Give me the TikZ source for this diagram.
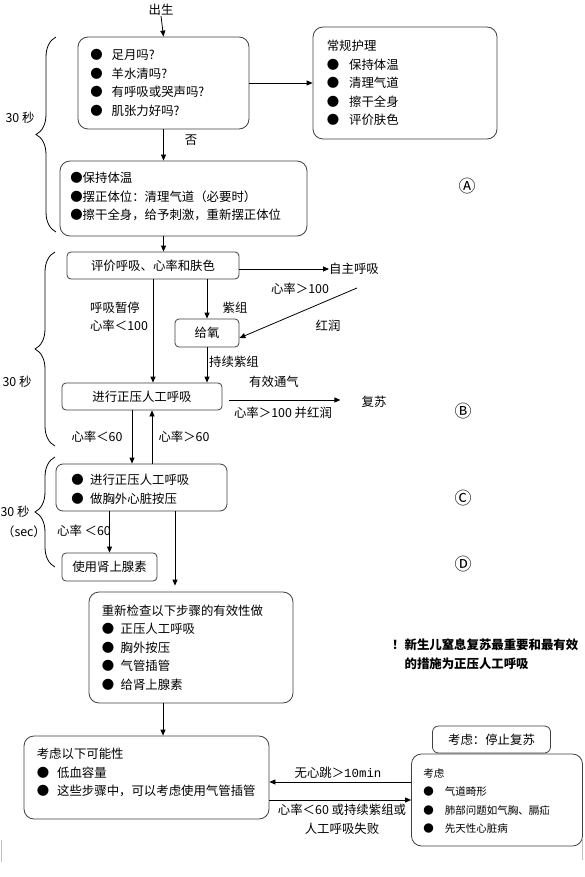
\documentclass[tikz,border=0pt]{standalone}
\usepackage{fontspec}
\setmainfont{Noto Sans CJK SC}
\newfontfamily\monof{Liberation Mono}
\usetikzlibrary{arrows.meta,decorations.pathreplacing}
\newcommand\bul[1]{●\hspace{#1pt}}
\begin{document}
\begin{tikzpicture}[x=1pt,y=-1pt,
  font=\fontsize{12.4}{18.5}\selectfont,
  bigbox/.style={draw=black!75, line width=0.8pt, rounded corners=10pt, inner sep=0pt},
  smallbox/.style={draw=black!75, line width=0.8pt, rounded corners=4pt, inner sep=0pt},
  txt/.style={inner sep=0pt, align=left, anchor=west},
  lbl/.style={inner sep=0pt},
  arr/.style={-{Triangle[length=6pt,width=5pt]}, line width=0.8pt},
  ln/.style={line width=0.8pt},
  brc/.style={decorate, decoration={brace, amplitude=20pt}, line width=0.8pt},
  circ/.style={inner sep=0pt, font=\fontsize{17}{17}\selectfont}
]
\useasboundingbox[fill=white] (0,0) rectangle (585,877);

% ---- boxes ----
\node[bigbox, minimum width=171pt, minimum height=92pt] (b1) at (163.5,83) {};
\node[txt] (t1) at ([xshift=12.5pt]b1.west) {\bul{9}足月吗?\\\bul{9}羊水清吗?\\\bul{9}有呼吸或哭声吗?\\\bul{9}肌张力好吗?};

\node[bigbox, minimum width=184pt, minimum height=112pt] (b2) at (405,83) {};
\node[txt] (t2) at ([xshift=14pt]b2.west) {常规护理\\\bul{10}保持体温\\\bul{10}清理气道\\\bul{10}擦干全身\\\bul{10}评价肤色};

\node[bigbox, minimum width=247pt, minimum height=75pt] (b3) at (183.5,198.5) {};
\node[txt] (t3) at ([xshift=10.5pt,yshift=2pt]b3.west) {●保持体温\\●摆正体位：清理气道（必要时）\\●擦干全身，给予刺激，重新摆正体位};

\node[smallbox, minimum width=172pt, minimum height=27pt] (b4) at (153,265.5) {评价呼吸、心率和肤色};
\node[smallbox, minimum width=64pt, minimum height=28pt] (b5) at (207,333) {给氧};
\node[smallbox, minimum width=160pt, minimum height=27pt] (b6) at (142,396.5) {进行正压人工呼吸};

\node[smallbox, rounded corners=7pt, minimum width=171pt, minimum height=47pt] (b7) at (141.5,487.5) {};
\node[txt] (t7) at ([xshift=15.5pt,yshift=-2pt]b7.west) {\bul{6.5}进行正压人工呼吸\\\bul{6.5}做胸外心脏按压};

\node[smallbox, minimum width=95pt, minimum height=28pt] (b8) at (109.5,567) {使用肾上腺素};

\node[bigbox, minimum width=204pt, minimum height=111pt] (b9) at (191,647.5) {};
\node[txt] (t9) at ([xshift=13pt]b9.west) {重新检查以下步骤的有效性做\\\bul{6.5}正压人工呼吸\\\bul{6.5}胸外按压\\\bul{6.5}气管插管\\\bul{6.5}给肾上腺素};

\node[bigbox, minimum width=245pt, minimum height=83pt] (b10) at (146.5,777.5) {};
\node[txt] (t10) at ([xshift=13pt,yshift=5pt]b10.west) {考虑以下可能性\\\bul{8}低血容量\\\bul{8}这些步骤中，可以考虑使用气管插管};

\node[smallbox, rounded corners=6pt, minimum width=118pt, minimum height=27pt] (b11) at (491.5,739.5) {考虑：停止复苏};

\node[bigbox, minimum width=171pt, minimum height=92pt] (b12) at (497,800) {};
\node[txt, font=\fontsize{10.5}{18.5}\selectfont] (t12) at ([xshift=12pt,yshift=-1pt]b12.west) {考虑\\\bul{11}气道畸形\\\bul{11}肺部问题如气胸、膈疝\\\bul{11}先天性心脏病};

% ---- free labels ----
\node[lbl] (birth) at (161,10) {出生};
\node[lbl] (zizhu) at (354,269) {自主呼吸};
\node[lbl] (fusu) at (374,402) {复苏};
\coordinate (hr) at (357,288);

\node[lbl] (lfou) at (191,140) {否};
\node[lbl] (l100) at (300,289) {心率＞100};
\node[lbl] (lzz) at (235,308) {紫组};
\node[lbl] (lhr) at (328,326) {红润};
\node[lbl] (lhx) at (115,308) {呼吸暂停};
\node[lbl] (lhx2) at (119,326) {心率＜100};
\node[lbl] (lcx) at (234,362) {持续紫组};
\node[lbl] (lyx) at (274,382) {有效通气};
\node[lbl] (lbh) at (283,413) {心率＞100 并红润};
\node[lbl] (l60a) at (97,437) {心率＜60};
\node[lbl] (l60b) at (184,437) {心率＞60};
\node[lbl] (l60c) at (84,531) {心率 ＜60};
\node[lbl] (lwx) at (338,773) {无心跳＞{\monof 10min}};
\node[lbl, align=center] (lsb) at (342,819) {心率＜60 或持续紫组或\\人工呼吸失败};

\node[lbl, anchor=west, align=left, font=\bfseries\fontsize{12.4}{18.5}\selectfont] (note) at (392,654) {！新生儿窒息复苏最重要和最有效\\\phantom{！}的措施为正压人工呼吸};

\node[circ] (cA) at (467,186) {Ⓐ};
\node[circ] (cB) at (463,411) {Ⓑ};
\node[circ] (cC) at (463,498) {Ⓒ};
\node[circ] (cD) at (463,564) {Ⓓ};

% ---- braces ----
\draw[brc] (56,232) -- (56,37);
\draw[brc] (55,446) -- (55,252);
\draw[brc] (55,567) -- (55,457);
\node[lbl] (s1) at (20,118) {30 秒};
\node[lbl] (s2) at (17,382) {30 秒};
\node[lbl] (s3) at (15,512) {30 秒};
\node[lbl] (s3b) at (24,532) {（sec）};

% ---- connectors ----
\draw[arr] (birth.south) -- (b1.north);
\draw[arr] (b1.east) -- (b2.west);
\draw[arr] (b1.south) -- (b1.south |- b3.north);
\draw[arr] (b1.south |- b3.south) -- (b1.south |- b4.north);
\draw[arr] ([yshift=-3.5pt]b4.east) -- ([yshift=-3.5pt]b4.east -| zizhu.west);
\draw[arr] (hr) -- ([yshift=-5pt]b5.east);
\draw[arr] (b4.south -| b5.north) -- (b5.north);
\draw[arr] (b4.south) -- (b4.south |- b6.north);
\draw[arr] (b5.south) -- (b5.south |- b6.north);
\draw[arr, shorten >=21pt] ([xshift=7pt,yshift=-3.5pt]b6.east) -- ([yshift=-3.5pt]b6.east -| fusu.west);
\draw[arr] ([xshift=-10pt]b6.south) -- ([xshift=-10pt]b6.south |- b7.north);
\draw[arr] ([xshift=10pt]b6.south |- b7.north) -- ([xshift=10pt]b6.south);
\draw[arr] (b8.north |- b7.south) -- (b8.north);
\draw[arr, shorten >=6pt] ([xshift=33.5pt]b7.south) -- ([xshift=33.5pt]b7.south |- b9.north);
\draw[arr] ([xshift=-28pt]b9.south) -- ([xshift=-28pt]b9.south |- b10.north);
\draw[arr] ([yshift=18pt]b12.west) -- ([yshift=18pt]b12.west -| b10.east);
\draw[arr] (b12.west -| b10.east) -- (b12.west);

% ---- page marks ----
\draw[black!25, line width=0.8pt] (1.5,840) -- (1.5,862);
\draw[black!25, line width=0.8pt] (582,838) -- (582,860);
\end{tikzpicture}
\end{document}
